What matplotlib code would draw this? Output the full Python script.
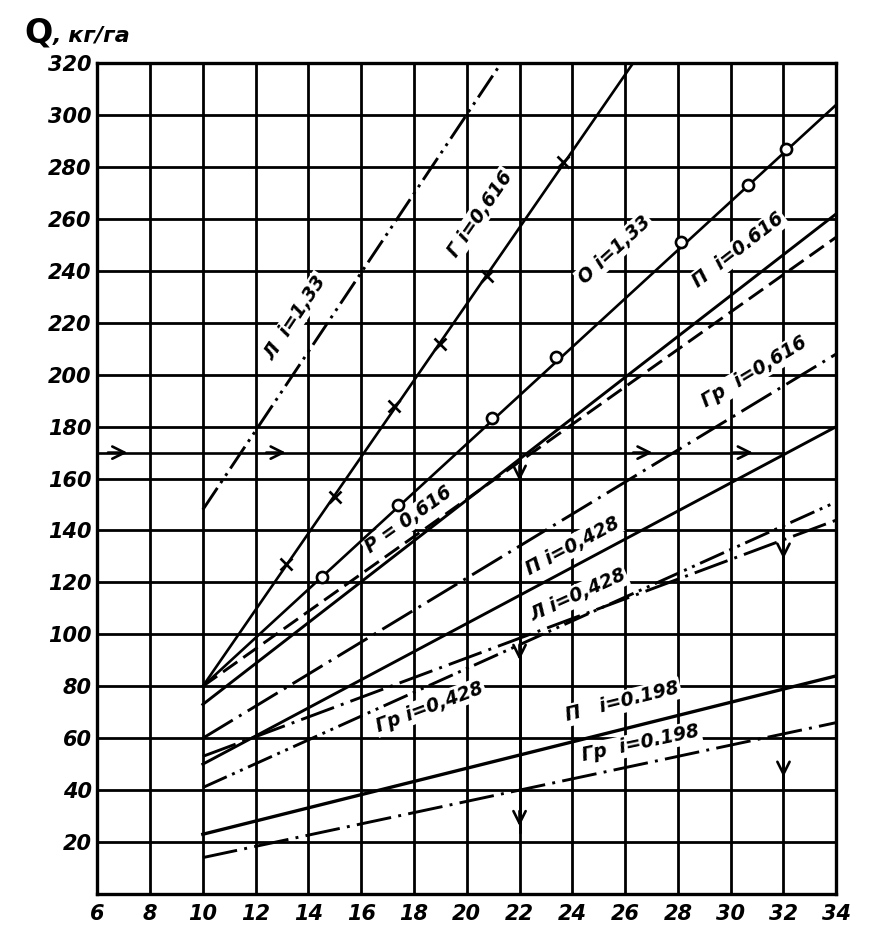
import numpy as np
import matplotlib.pyplot as plt
from matplotlib import font_manager

names = {f.name for f in font_manager.fontManager.ttflist}
narrow = 'Liberation Sans Narrow' if 'Liberation Sans Narrow' in names else 'DejaVu Sans'
plt.rcParams['font.family'] = [narrow, 'DejaVu Sans']

# axis ticks
v_ticks = list(range(6, 35, 2))
q_ticks = list(range(20, 321, 20))

# straight lines: start and end (V, Q)
l133_v, l133_q = [10, 21.3], [148, 320]
g616_v, g616_q = [10, 26.3], [80, 320]
o133_v, o133_q = [10, 34], [80, 304]
p616_v, p616_q = [10, 34], [73, 262]
r616_v, r616_q = [10, 34], [80, 253]
gr616_v, gr616_q = [10, 34], [60, 208]
p428_v, p428_q = [10, 34], [50, 180]
l428_v, l428_q = [10, 34], [41, 151]
gr428_v, gr428_q = [10, 34], [53, 144]
p198_v, p198_q = [10, 34], [23, 84]
gr198_v, gr198_q = [10, 34], [14, 66]

# marker points
g616_mark_v = [13.15, 15.0, 17.25, 19.0, 20.76, 23.65]
g616_mark_q = [127, 153, 188, 212, 238, 282]
o133_mark_v = [14.5, 17.4, 20.95, 23.4, 28.1, 30.65, 32.1]
o133_mark_q = [122, 150, 183.5, 207, 251, 273, 287]

# reading lines with arrows
read_q = 170
read_v = [6, 32]
drop_v = [22, 32]
drop_bottom = [24, 40]
arrow_h_v = [6.9, 12.9, 26.8, 30.6]
arrow_22_q = [158, 89, 25]
arrow_32_q = [128, 44]

fig = plt.figure(figsize=(8.84, 9.43), dpi=100)
ax = fig.add_axes([0.110, 0.052, 0.836, 0.881])
ax.set_xlim(6, 34)
ax.set_ylim(0, 320)
ax.set_xticks(v_ticks)
ax.set_yticks(q_ticks)
ax.set_xticklabels([str(v) for v in v_ticks], fontsize=15, style='italic', fontweight='bold')
ax.set_yticklabels([str(q) for q in q_ticks], fontsize=15, style='italic', fontweight='bold')
ax.tick_params(length=0, pad=7)
ax.tick_params(axis='y', pad=4)
ax.grid(True, color='black', lw=2.0, zorder=1)
ax.set_axisbelow(True)
for s in ax.spines.values():
    s.set_linewidth(2.4)

lw = 2.1
ax.plot(l133_v, l133_q, color='black', lw=lw, ls=(0, (9, 2, 1, 2, 1, 2)), zorder=4)
ax.plot(g616_v, g616_q, color='black', lw=1.9, zorder=4)
ax.plot(o133_v, o133_q, color='black', lw=1.9, zorder=4)
ax.plot(p616_v, p616_q, color='black', lw=lw, zorder=4)
ax.plot(r616_v, r616_q, color='black', lw=lw, ls=(0, (6, 2.5)), zorder=4)
ax.plot(gr616_v, gr616_q, color='black', lw=lw, ls=(0, (12, 2.5, 1, 2.5)), zorder=4)
ax.plot(p428_v, p428_q, color='black', lw=lw, zorder=4)
ax.plot(l428_v, l428_q, color='black', lw=lw, ls=(0, (9, 2, 1, 2, 1, 2)), zorder=4)
ax.plot(gr428_v, gr428_q, color='black', lw=lw, ls=(0, (12, 2.5, 1, 2.5)), zorder=4)
ax.plot(p198_v, p198_q, color='black', lw=2.4, zorder=4)
ax.plot(gr198_v, gr198_q, color='black', lw=lw, ls=(0, (12, 2.5, 1, 2.5)), zorder=4)

ax.plot(g616_mark_v, g616_mark_q, ls='none', marker='x', ms=9, mew=1.9,
        color='black', zorder=5)
ax.plot(o133_mark_v, o133_mark_q, ls='none', marker='o', ms=8, mew=1.9,
        mfc='white', mec='black', zorder=5)

# reading lines
ax.plot(read_v, [read_q, read_q], color='black', lw=1.9, zorder=4)
for v, qb in zip(drop_v, drop_bottom):
    ax.plot([v, v], [read_q, qb], color='black', lw=1.9, zorder=4)
for v in arrow_h_v:
    ax.annotate('', xy=(v + 0.35, read_q), xytext=(v - 0.6, read_q),
                arrowprops=dict(arrowstyle='->', lw=1.9, color='black',
                                mutation_scale=22), zorder=6)
for q in arrow_22_q:
    ax.annotate('', xy=(22, q), xytext=(22, q + 8),
                arrowprops=dict(arrowstyle='->', lw=1.9, color='black',
                                mutation_scale=22), zorder=6)
for q in arrow_32_q:
    ax.annotate('', xy=(32, q), xytext=(32, q + 8),
                arrowprops=dict(arrowstyle='->', lw=1.9, color='black',
                                mutation_scale=22), zorder=6)


def angle(vs, qs):
    p0 = ax.transData.transform((vs[0], qs[0]))
    p1 = ax.transData.transform((vs[1], qs[1]))
    return np.degrees(np.arctan2(p1[1] - p0[1], p1[0] - p0[0]))


labels = [
    ('Л  i=1,33', 13.5, 222, l133_v, l133_q),
    ('Г i=0,616', 20.5, 262, g616_v, g616_q),
    ('О i=1,33', 25.6, 248, o133_v, o133_q),
    ('П  i=0.616', 30.3, 248, p616_v, p616_q),
    ('Р = 0,616', 17.8, 144, r616_v, r616_q),
    ('Гр  i=0,616', 30.9, 201, gr616_v, gr616_q),
    ('П i=0,428', 24.0, 134, p428_v, p428_q),
    ('Л i=0,428', 24.2, 115, l428_v, l428_q),
    ('Гр i=0,428', 18.6, 72, gr428_v, gr428_q),
    ('П   i=0.198', 25.9, 74, p198_v, p198_q),
    ('Гр  i=0.198', 26.6, 58, gr198_v, gr198_q),
]
for txt, v, q, lv, lq in labels:
    ax.text(v, q, txt, rotation=angle(lv, lq), rotation_mode='anchor',
            ha='center', va='center', fontsize=13.5, style='italic',
            fontweight='bold', zorder=3,
            bbox=dict(fc='white', ec='none', pad=1.2))

fig.text(0.028, 0.955, 'Q', fontsize=24, fontweight='bold', va='baseline')
fig.text(0.060, 0.955, ', кг/га', fontsize=16, style='italic', fontweight='bold',
         va='baseline')

fig.savefig('out.png', dpi=100)
